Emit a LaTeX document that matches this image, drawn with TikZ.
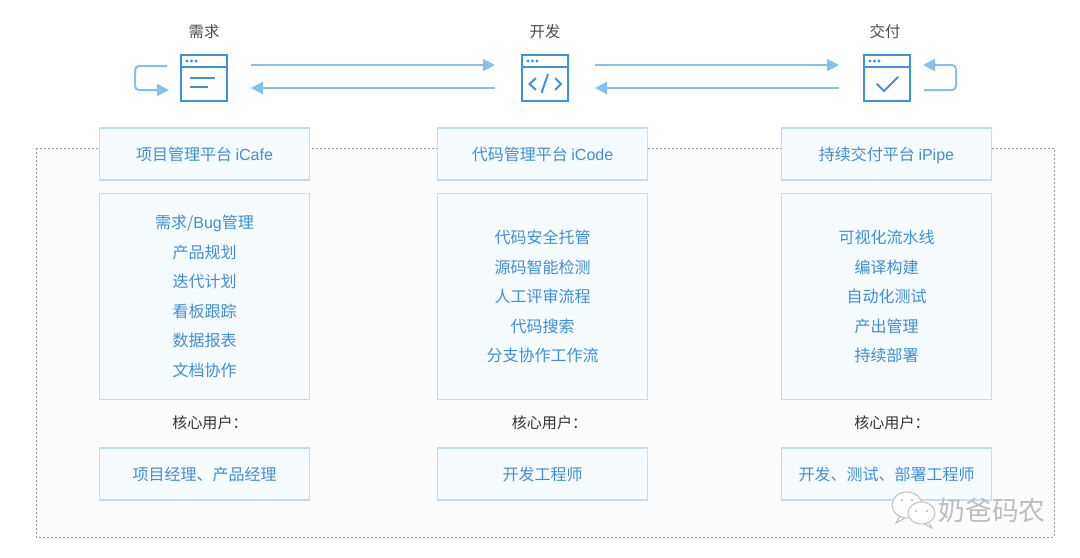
\documentclass[tikz,border=0pt]{standalone}
\usepackage{fontspec}
\setmainfont{Noto Sans CJK SC}
\newfontfamily\latfont{Liberation Sans}
\usetikzlibrary{arrows.meta}
\definecolor{boxfill}{HTML}{F5FBFF}
\definecolor{boxline}{HTML}{BDE0F7}
\definecolor{boxtext}{HTML}{3F8FD8}
\definecolor{iconblue}{HTML}{3C94DE}
\definecolor{arrowblue}{HTML}{84C0F0}
\definecolor{headtext}{HTML}{4A4A4A}
\definecolor{areafill}{HTML}{FCFCFC}
\definecolor{markgray}{HTML}{BDBDBD}
\newcommand{\lat}[1]{{\latfont #1}}
\tikzset{
  x=0.75pt,y=-0.75pt,
  area/.style={draw=black!40,dash pattern=on 1.5pt off 1.5pt,fill=areafill,line width=0.7pt},
  bluebox/.style={draw=boxline,fill=boxfill,line width=0.9pt,minimum width=157pt,inner sep=0pt,text=boxtext,font=\fontsize{12}{22.1}\selectfont,align=center},
  titlebox/.style={bluebox,minimum height=39pt,text height=12pt,text depth=2.8pt},
  listbox/.style={bluebox,minimum height=154.5pt},
  head/.style={text=headtext,font=\fontsize{11.5}{14}\selectfont,inner sep=0pt},
  core/.style={text=black!80,font=\fontsize{11.3}{14}\selectfont,inner sep=0pt},
  window/.style={draw=iconblue,line width=1.5pt,fill=white,minimum width=34.5pt,minimum height=34pt,inner sep=0pt},
  glyph/.style={draw=iconblue,line width=1.5pt},
  flow/.style={draw=arrowblue,line width=1.5pt,-{Triangle[length=9pt,width=9pt]}},
  loopflow/.style={flow,rounded corners=3pt},
  dotmark/.style={fill=iconblue,circle,inner sep=0pt,minimum size=2.4pt},
}
\begin{document}
\begin{tikzpicture}
\useasboundingbox (0,0) rectangle (1080,557);
\fill[white] (0,0) rectangle (1080,557);
\draw[area] (36,148) rectangle (1054,537);

% titles
\node[head] (h1) at (204,32) {需求};
\node[head] (h2) at (545,32) {开发};
\node[head] (h3) at (885,32) {交付};

% icons
\foreach \n/\cx in {w1/204,w2/545,w3/887}{
  \node[window] (\n) at (\cx,78) {};
  \draw[glyph] (\n.west |- 0,66.7) -- (\n.east |- 0,66.7);
  \node[dotmark] at (\cx-17,61) {};
  \node[dotmark] at (\cx-12.5,61) {};
  \node[dotmark] at (\cx-8,61) {};
}
\draw[glyph] (190,78) -- (215,78) (190,87) -- (208,87);
\draw[glyph] (536,78) -- (529.5,84) -- (536,90);
\draw[glyph] (548,74) -- (541.5,93);
\draw[glyph] (555,78) -- (561,84) -- (555,90);
\draw[glyph,line cap=round] (877,84) -- (884,91) -- (898,77);

% connector ends
\coordinate (a1) at (251,65);  \coordinate (a2) at (495,65);
\coordinate (b1) at (495,88);  \coordinate (b2) at (251,88);
\coordinate (c1) at (595,65);  \coordinate (c2) at (839,65);
\coordinate (d1) at (839,88);  \coordinate (d2) at (595,88);
\coordinate (l1) at (167,66);  \coordinate (l2) at (135,66);
\coordinate (l3) at (135,90);  \coordinate (l4) at (169,90);
\coordinate (r1) at (924,90);  \coordinate (r2) at (956,90);
\coordinate (r3) at (956,65);  \coordinate (r4) at (923,65);
\draw[flow] (a1) -- (a2);
\draw[flow] (b1) -- (b2);
\draw[flow] (c1) -- (c2);
\draw[flow] (d1) -- (d2);
\draw[loopflow] (l1) -- (l2) -- (l3) -- (l4);
\draw[loopflow] (r1) -- (r2) -- (r3) -- (r4);

% column 1
\node[titlebox] (t1) at (204.5,154) {项目管理平台 \lat{iCafe}};
\node[listbox] (c1box) at (204.5,296.5) {需求/\lat{Bug}管理\\产品规划\\迭代计划\\看板跟踪\\数据报表\\文档协作};
\node[core] (u1) at (210,423) {核心用户：};
\node[titlebox] (b1box) at (204.5,474) {项目经理、产品经理};

% column 2
\node[titlebox] (t2) at (542.5,154) {代码管理平台 \lat{iCode}};
\node[listbox] (c2box) at (542.5,296.5) {代码安全托管\\源码智能检测\\人工评审流程\\代码搜索\\分支协作工作流};
\node[core] (u2) at (549.5,423) {核心用户：};
\node[titlebox] (b2box) at (542.5,474) {开发工程师};

% column 3
\node[titlebox] (t3) at (886.5,154) {持续交付平台 \lat{iPipe}};
\node[listbox] (c3box) at (886.5,296.5) {可视化流水线\\编译构建\\自动化测试\\产出管理\\持续部署};
\node[core] (u3) at (892,423) {核心用户：};
\node[titlebox] (b3box) at (886.5,474) {开发、测试、部署工程师};

% watermark
\draw[markgray,fill=white,line width=0.7pt] (907,505) ellipse (15 and 13);
\draw[markgray,line width=0.7pt] (900,516) -- (896,523) -- (905,518);
\draw[markgray,fill=white,line width=0.7pt] (921.5,513) ellipse (13.5 and 11);
\draw[markgray,line width=0.7pt] (929,523) -- (932,528) -- (924,524);
\fill[markgray] (902,500) circle (1.2) (912,500) circle (1.2) (916,511) circle (1.2) (927,511) circle (1.2);
\node[text=markgray,font=\fontsize{20}{24}\selectfont,inner sep=0pt] (wm) at (992,510) {奶爸码农};
\end{tikzpicture}
\end{document}
